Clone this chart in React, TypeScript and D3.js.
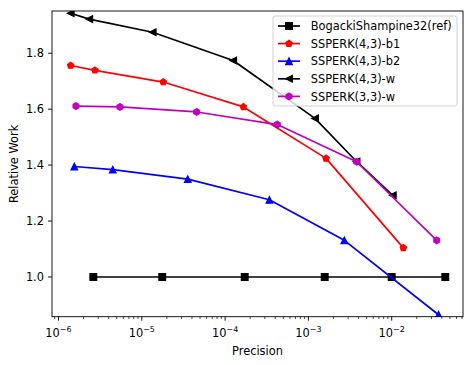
import * as React from "react";
import * as d3 from "d3";

// values
const refPrecision = [2.62e-6, 1.76e-5, 1.72e-4, 1.57e-3, 1.0e-2, 4.4e-2];
const refWork = [1.0, 1.0, 1.0, 1.0, 1.0, 1.0];

const b1Precision = [1.40e-6, 2.74e-6, 1.81e-5, 1.66e-4, 1.63e-3, 1.38e-2];
const b1Work = [1.756, 1.739, 1.697, 1.608, 1.424, 1.104];

const b2Precision = [1.55e-6, 4.48e-6, 3.56e-5, 3.40e-4, 2.70e-3, 3.65e-2];
const b2Work = [1.395, 1.384, 1.350, 1.276, 1.131, 0.865];

const w43Precision = [1.40e-6, 2.34e-6, 1.35e-5, 1.25e-4, 1.20e-3, 3.78e-3, 1.03e-2];
const w43Work = [1.943, 1.922, 1.875, 1.774, 1.567, 1.413, 1.292];

const w33Precision = [1.62e-6, 5.47e-6, 4.56e-5, 4.23e-4, 3.80e-3, 3.47e-2];
const w33Work = [1.611, 1.608, 1.590, 1.545, 1.412, 1.131];

const seriesNames = ["BogackiShampine32(ref)", "SSPERK(4,3)-b1", "SSPERK(4,3)-b2", "SSPERK(4,3)-w", "SSPERK(3,3)-w"];
const seriesColors = ["#000000", "#ff0000", "#0000ff", "#000000", "#bf00bf"];
const seriesMarkers = ["square", "pentagon", "triangleUp", "triangleLeft", "hexagon"];

const yTicks = [1.0, 1.2, 1.4, 1.6, 1.8];
const xTickExps = [-6, -5, -4, -3, -2];

const W = 474, H = 365;
const margin = { left: 52, top: 11, right: 11, bottom: 48.3 };
const FONT = "DejaVu Sans, sans-serif";
const FS = 11.4;

function markerPath(kind: string, s: number): string {
  const r = s / 2;
  const poly = (pts: number[][]) => "M" + pts.map(p => p[0].toFixed(2) + "," + p[1].toFixed(2)).join("L") + "Z";
  const regular = (n: number) => d3.range(n).map(i => {
    const a = -Math.PI / 2 + (i * 2 * Math.PI) / n;
    return [r * Math.cos(a), r * Math.sin(a)];
  });
  switch (kind) {
    case "square": return poly([[-r, -r], [r, -r], [r, r], [-r, r]]);
    case "triangleUp": return poly([[0, -r], [-r, r], [r, r]]);
    case "triangleLeft": return poly([[-r, 0], [r, -r], [r, r]]);
    case "pentagon": return poly(regular(5));
    default: return poly(regular(6));
  }
}

export default function App() {
  const x = d3.scaleLog().domain([Math.pow(10, -6.078), Math.pow(10, -1.144)]).range([margin.left, W - margin.right]);
  const y = d3.scaleLinear().domain([0.858, 1.951]).range([H - margin.bottom, margin.top]);

  const series = [
    { xs: refPrecision, ys: refWork },
    { xs: b1Precision, ys: b1Work },
    { xs: b2Precision, ys: b2Work },
    { xs: w43Precision, ys: w43Work },
    { xs: w33Precision, ys: w33Work },
  ];

  const line = d3.line<[number, number]>().x(d => x(d[0])).y(d => y(d[1]));

  const x0 = margin.left, x1 = W - margin.right;
  const y0 = margin.top, y1 = H - margin.bottom;

  const [dMin, dMax] = x.domain();
  const minorTicks: number[] = [];
  for (let e = -7; e <= -1; e++) {
    for (let m = 2; m <= 9; m++) {
      const v = m * Math.pow(10, e);
      if (v >= dMin && v <= dMax) minorTicks.push(v);
    }
  }

  const mSize = 6.8;
  const lw = 1.7;

  // legend layout
  const lg = { x: 273, y: 16, w: 184, h: 90, row: 17.6, first: 26 };

  return (
    <svg width={W} height={H} style={{ position: "absolute", left: 0, top: 0, background: "#fff" }} fontFamily={FONT}>
      <defs>
        <clipPath id="plotArea">
          <rect x={x0} y={y0} width={x1 - x0} height={y1 - y0} />
        </clipPath>
      </defs>
      <rect x={0} y={0} width={W} height={H} fill="#fff" />

      <g clipPath="url(#plotArea)">
        {series.map((s, i) => {
          const pts = s.xs.map((v, j) => [v, s.ys[j]] as [number, number]);
          return (
            <g key={i}>
              <path d={line(pts) || ""} fill="none" stroke={seriesColors[i]} strokeWidth={lw} strokeLinejoin="round" />
              {pts.map((p, j) => (
                <path key={j} d={markerPath(seriesMarkers[i], mSize)} transform={`translate(${x(p[0])},${y(p[1])})`}
                  fill={seriesColors[i]} stroke={seriesColors[i]} strokeWidth={1.1} strokeLinejoin="miter" />
              ))}
            </g>
          );
        })}
      </g>

      {/* spines */}
      <rect x={x0} y={y0} width={x1 - x0} height={y1 - y0} fill="none" stroke="#000" strokeWidth={0.9} />

      {/* y axis */}
      {yTicks.map(t => (
        <g key={t}>
          <line x1={x0 - 4} x2={x0} y1={y(t)} y2={y(t)} stroke="#000" strokeWidth={0.9} />
          <text x={x0 - 8} y={y(t)} dy="0.36em" textAnchor="end" fontSize={FS} fill="#000">{t.toFixed(1)}</text>
        </g>
      ))}

      {/* x axis */}
      {minorTicks.map((t, i) => (
        <line key={i} x1={x(t)} x2={x(t)} y1={y1} y2={y1 + 2.3} stroke="#000" strokeWidth={0.7} />
      ))}
      {xTickExps.map(e => {
        const px = x(Math.pow(10, e));
        return (
          <g key={e}>
            <line x1={px} x2={px} y1={y1} y2={y1 + 4} stroke="#000" strokeWidth={0.9} />
            <text x={px} y={y1 + 20} textAnchor="middle" fontSize={FS} fill="#000">
              10<tspan fontSize={FS * 0.7} dy={-5}>{"\u2212" + Math.abs(e)}</tspan>
            </text>
          </g>
        );
      })}

      <text x={(x0 + x1) / 2} y={355} textAnchor="middle" fontSize={FS} fill="#000">Precision</text>
      <text transform={`translate(18,${(y0 + y1) / 2}) rotate(-90)`} textAnchor="middle" fontSize={FS} fill="#000">Relative Work</text>

      {/* legend */}
      <rect x={lg.x} y={lg.y} width={lg.w} height={lg.h} rx={2.5} fill="#fff" fillOpacity={0.8} stroke="#cccccc" strokeWidth={0.9} />
      {seriesNames.map((name, i) => {
        const cy = lg.first + i * lg.row;
        return (
          <g key={name}>
            <line x1={278} x2={300} y1={cy} y2={cy} stroke={seriesColors[i]} strokeWidth={lw} />
            <path d={markerPath(seriesMarkers[i], mSize)} transform={`translate(289,${cy})`} fill={seriesColors[i]} stroke={seriesColors[i]} strokeWidth={1.1} />
            <text x={310.7} y={cy} dy="0.36em" fontSize={FS} fill="#000">{name}</text>
          </g>
        );
      })}
    </svg>
  );
}
